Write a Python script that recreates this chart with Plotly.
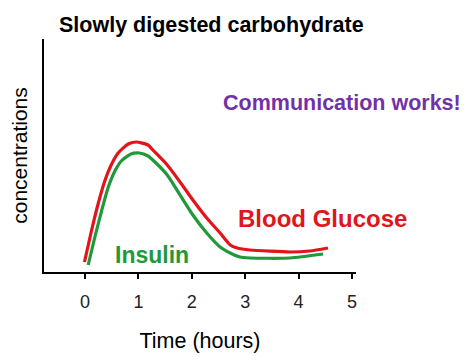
import plotly.graph_objects as go

# Data (hours, arbitrary concentration units)
glucose_t = [-0.01, 0.12, 0.24, 0.37, 0.49, 0.62, 0.81, 0.96, 1.18, 1.27, 1.54, 1.78, 2.02,
             2.28, 2.53, 2.72, 2.85, 3.09, 3.84, 4.21, 4.55]
glucose_c = [10, 41, 67, 91, 107, 119, 128, 130, 127, 122, 107, 90, 72,
             54, 39, 27, 24, 22, 20, 21, 24]
insulin_t = [0.06, 0.18, 0.31, 0.43, 0.56, 0.68, 0.86, 1.02, 1.18, 1.27, 1.54, 1.78, 2.02,
             2.28, 2.53, 2.72, 2.90, 3.09, 3.84, 4.46]
insulin_c = [7, 34, 61, 84, 101, 111, 118, 119, 116, 112, 97, 77, 57,
             39, 25, 19, 15, 14, 14, 18]
tick_vals = [0, 1, 2, 3, 4, 5]
tick_text = ["0", "1", "2", "3", "4", "5"]

RED = "#e2141c"
GREEN = "#1f9a3a"
PURPLE = "#7331a6"
FONT = "Liberation Sans, Arial, sans-serif"

# page body has an 8px margin; figure coordinates are offset accordingly
OFF = 8
W, H = 474 - OFF, 363 - OFF
PL, PR, PT, PB = 44 - OFF, 356 - OFF, 39 - OFF, 272 - OFF  # plot area in figure px


def px(x):
    return (x - OFF - PL) / (PR - PL)


def py(y):
    return (PB - (y - OFF)) / (PB - PT)


fig = go.Figure()
fig.add_trace(go.Scatter(x=glucose_t, y=glucose_c, mode="lines",
                         line=dict(color=RED, width=3.2, shape="spline", smoothing=0.6),
                         name="Blood Glucose", showlegend=False))
fig.add_trace(go.Scatter(x=insulin_t, y=insulin_c, mode="lines",
                         line=dict(color=GREEN, width=3.2, shape="spline", smoothing=0.6),
                         name="Insulin", showlegend=False))

fig.add_annotation(x=px(152), y=py(255), xref="paper", yref="paper",
                   xanchor="center", yanchor="middle",
                   text="<b>Insulin</b>", showarrow=False,
                   font=dict(family=FONT, size=23, color=GREEN))
fig.add_annotation(x=px(322), y=py(218), xref="paper", yref="paper",
                   xanchor="center", yanchor="middle",
                   text="<b>Blood Glucose</b>", showarrow=False,
                   font=dict(family=FONT, size=24, color=RED))
fig.add_annotation(x=px(342), y=py(103), xref="paper", yref="paper",
                   xanchor="center", yanchor="middle",
                   text="<b>Communication works!</b>", showarrow=False,
                   font=dict(family=FONT, size=21.5, color=PURPLE))

fig.update_layout(
    width=W, height=H,
    margin=dict(l=PL, r=W - PR, t=PT, b=H - PB),
    paper_bgcolor="white", plot_bgcolor="white",
    title=dict(text="<b>Slowly digested carbohydrate</b>", x=(59 - OFF) / W, xanchor="left",
               y=1 - (24 - OFF) / H, yanchor="middle",
               font=dict(family=FONT, size=21.5, color="black")),
    xaxis=dict(range=[-0.768, 5.075], showgrid=False, zeroline=False, automargin=False,
               showline=True, linecolor="black", linewidth=2,
               ticks="outside", ticklen=5, tickwidth=2, tickcolor="black",
               tickvals=tick_vals, ticktext=tick_text, ticklabelstandoff=7,
               tickfont=dict(family=FONT, size=18, color="#222222"),
               title=dict(text="Time (hours)", standoff=22,
                          font=dict(family=FONT, size=21.5, color="black"))),
    yaxis=dict(range=[0, 233], showgrid=False, zeroline=False, automargin=False,
               showline=True, linecolor="black", linewidth=2,
               showticklabels=False, ticks="",
               title=dict(text="concentrations", standoff=10,
                          font=dict(family=FONT, size=21, color="black"))),
)

fig.write_html("out.html")
